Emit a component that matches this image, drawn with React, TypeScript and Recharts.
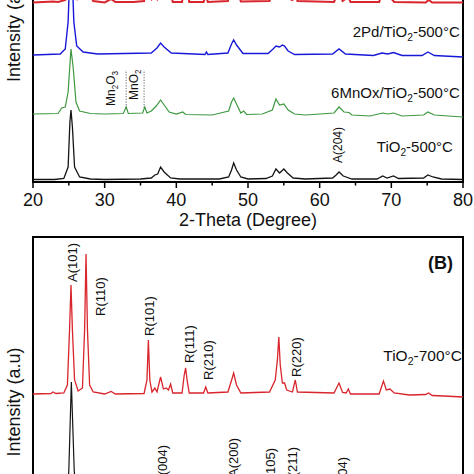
import React from 'react';
import { LineChart, Line, XAxis, YAxis, ReferenceDot, ReferenceLine, ReferenceArea } from 'recharts';

const FONT = '"Liberation Sans", Arial, Helvetica, sans-serif';

// ---------- shared ----------
const xTicks = [20, 25, 30, 35, 40, 45, 50, 55, 60, 65, 70, 75, 80];
const xDomain = [20, 80];

// ---------- Panel A (intensity, stacked, a.u.) ----------
const tio2_500: [number, number][] = [
  [20, 2.5], [23, 2.5], [24.3, 3.5], [24.9, 15], [25.15, 60], [25.3, 72], [25.5, 55], [25.8, 15], [26.5, 5], [28, 3],
  [30, 2.5], [35, 3], [36.5, 4], [37.0, 7], [37.4, 8], [37.8, 15], [38.3, 10], [38.6, 8], [39.2, 4], [40.5, 3],
  [46, 3], [47.3, 5], [47.7, 12], [48.0, 19], [48.4, 12], [49, 5], [50, 3], [52.5, 3.5], [53.4, 6], [53.9, 13],
  [54.4, 9], [55.0, 13], [55.5, 9], [56.3, 4], [58, 3], [61.8, 4], [62.3, 7], [62.7, 10], [63.3, 6], [64.5, 3],
  [68, 3], [68.8, 6], [69.4, 4], [70.3, 6], [71, 3.5], [74.5, 4], [75.1, 7], [75.8, 5], [77, 3], [80, 2.5],
];
const mnox_500: [number, number][] = [
  [20, 68], [23.5, 68.5], [24.0, 74], [24.5, 75], [24.9, 90], [25.3, 133], [25.6, 115], [26, 80], [26.5, 71], [28, 68.5],
  [30, 68], [32.6, 68.5], [33.0, 75], [33.3, 68.5], [35.3, 69], [35.6, 75], [35.9, 69], [36.5, 71], [37.2, 76], [37.8, 82],
  [38.3, 77], [39, 70], [40, 68], [40.9, 70], [41.3, 67.5], [45, 67], [47.3, 71], [47.7, 80], [48.0, 84], [48.4, 78],
  [49.0, 69], [49.4, 71], [49.8, 67.5], [52, 68], [53.4, 72], [53.9, 83], [54.4, 77], [55.0, 78], [55.6, 72], [56.5, 68],
  [58, 67], [62, 69], [62.7, 75], [63.4, 70], [64.1, 69.5], [64.5, 67], [67, 66], [68.8, 69], [69.5, 68], [70.3, 69],
  [71.5, 66], [74.5, 67], [75.1, 70], [76, 67], [80, 65],
];
const pd_500: [number, number][] = [
  [20, 127], [23.8, 128], [24.5, 133], [24.9, 160], [25.3, 240], [25.7, 160], [26.1, 136], [27, 130], [29, 128], [36.5, 129],
  [37.3, 134], [37.8, 139], [38.3, 135], [39.3, 129], [44, 127.5], [44.2, 130], [44.4, 127.5], [47.2, 129], [47.7, 138], [48.0, 142],
  [48.4, 137], [49.3, 128.5], [52.8, 128.5], [53.5, 133], [53.9, 136], [54.4, 135], [54.8, 137], [55.1, 136], [55.6, 131], [56.5, 127.5],
  [61.8, 128], [62.7, 133], [63.6, 128], [67.5, 126.5], [68.7, 129], [69.5, 128], [70.3, 129.5], [71.5, 126.5], [74.3, 126.5], [75.1, 130],
  [76, 126.5], [80, 125],
];
const tio2_700_A: [number, number][] = [
  [20, 179.5], [22.8, 180.5], [23.5, 180], [24.5, 182], [24.9, 195], [25.3, 290], [25.7, 195], [26.2, 183], [26.9, 188], [27.4, 320],
  [27.9, 188], [28.4, 181], [30, 179.5], [30.9, 183], [31.5, 180], [34, 180], [35.5, 181], [36.1, 240], [36.6, 183], [37.0, 186],
  [37.3, 183], [37.8, 200], [38.2, 185], [38.6, 186], [39.2, 190], [39.5, 180], [40.8, 180], [41.3, 210], [41.8, 180], [43.8, 180],
  [44.1, 187], [44.4, 180], [47.2, 181], [48.0, 205], [49, 180.5], [53.0, 181], [53.8, 195], [54.3, 240], [54.8, 192], [55.1, 192],
  [55.4, 184], [56.2, 182], [56.6, 195], [56.9, 181], [62.0, 180], [62.7, 192], [63.2, 181], [64.0, 185], [64.3, 180], [68.3, 180],
  [68.9, 193], [69.3, 184], [69.8, 185], [70.4, 180], [74.8, 179.5], [75.2, 182], [75.7, 179.5], [80, 179.5],
];

// ---------- Panel B ----------
const tio2_700_B: [number, number][] = [
  [20, 136], [22.5, 136.5], [22.8, 138], [23.2, 136.5], [24.3, 137], [24.8, 145], [25.1, 200], [25.3, 245], [25.5, 200], [25.8, 150],
  [26.3, 139], [26.9, 142], [27.2, 200], [27.4, 276], [27.6, 200], [27.9, 145], [28.4, 138], [30, 136], [30.9, 138.5], [31.5, 136],
  [35.5, 136.5], [35.9, 150], [36.1, 190], [36.3, 150], [36.6, 138], [37.0, 142], [37.3, 138], [37.8, 153], [38.2, 141], [38.6, 142],
  [38.9, 140], [39.2, 146], [39.5, 137], [40.8, 137], [41.1, 155], [41.3, 162], [41.5, 150], [41.8, 137], [43.8, 137], [44.1, 143],
  [44.4, 137], [47.2, 138], [47.8, 152], [48.0, 157], [48.4, 145], [49, 137], [53.0, 138], [53.8, 150], [54.1, 170], [54.3, 193],
  [54.5, 165], [54.8, 147], [55.1, 147], [55.4, 140], [56.2, 138], [56.6, 150], [56.9, 138], [62.0, 137], [62.7, 147], [63.2, 137.5],
  [63.7, 137], [64.0, 141], [64.3, 136], [68.3, 136], [68.9, 149], [69.3, 140], [69.8, 141], [70.4, 137], [72.5, 135], [74.8, 135.5],
  [75.2, 137], [75.7, 134.5], [77.3, 134], [80, 133],
];
const tio2_500_B: [number, number][] = [
  [20, 20], [24.5, 22], [24.8, 35], [25.0, 60], [25.35, 148], [25.75, 60], [26.0, 35], [26.5, 22], [36.5, 21], [37.8, 28],
  [39, 21], [47.5, 22], [48.0, 30], [48.5, 22], [80, 20],
];

type Part = { t: string; sub?: boolean };
type Note = { x: number; y: number; parts: Part[]; size: number; rotate?: boolean; anchor?: string; bold?: boolean };

const sub = (t: string): Part => ({ t, sub: true });
const txt = (t: string): Part => ({ t });

const Y_TITLE = 'Intensity (a.u)';

const notesA: Note[] = [
  { x: 17.35, y: 154.5, parts: [txt(Y_TITLE)], size: 18, rotate: true, anchor: 'middle' },
  { x: 62.55, y: 19, parts: [txt('A(204)')], size: 12, rotate: true },
  { x: 30.95, y: 76, parts: [txt('Mn'), sub('2'), txt('O'), sub('3')], size: 12, rotate: true },
  { x: 34.15, y: 82, parts: [txt('MnO'), sub('2')], size: 12, rotate: true },
  { x: 79.55, y: 145, parts: [txt('2Pd/TiO'), sub('2'), txt('-500°C')], size: 15, anchor: 'end' },
  { x: 79.55, y: 84, parts: [txt('6MnOx/TiO'), sub('2'), txt('-500°C')], size: 15, anchor: 'end' },
  { x: 78.6, y: 30, parts: [txt('TiO'), sub('2'), txt('-500°C')], size: 15, anchor: 'end' },
];
const dottedA: [number, number, number][] = [
  [33.0, 74, 112],
  [35.5, 74, 112],
];

const notesB: Note[] = [
  { x: 17.35, y: 128, parts: [txt(Y_TITLE)], size: 18, rotate: true, anchor: 'middle' },
  { x: 25.45, y: 248, parts: [txt('A(101)')], size: 13, rotate: true },
  { x: 29.35, y: 214, parts: [txt('R(110)')], size: 13, rotate: true },
  { x: 36.2, y: 194, parts: [txt('R(101)')], size: 13, rotate: true },
  { x: 41.8, y: 167, parts: [txt('R(111)')], size: 13, rotate: true },
  { x: 44.4, y: 150, parts: [txt('R(210)')], size: 13, rotate: true },
  { x: 56.7, y: 153, parts: [txt('R(220)')], size: 13, rotate: true },
  { x: 38.0, y: 46, parts: [txt('A(004)')], size: 13, rotate: true },
  { x: 47.9, y: 53, parts: [txt('A(200)')], size: 13, rotate: true },
  { x: 53.1, y: 43, parts: [txt('A(105)')], size: 13, rotate: true },
  { x: 56.1, y: 45, parts: [txt('A(211)')], size: 13, rotate: true },
  { x: 63.1, y: 34, parts: [txt('A(204)')], size: 13, rotate: true },
  { x: 79.85, y: 169, parts: [txt('TiO'), sub('2'), txt('-700°C')], size: 15.5, anchor: 'end' },
  { x: 78.6, y: 261, parts: [txt('(B)')], size: 18, anchor: 'end', bold: true },
];

const toPts = (a: [number, number][]) => a.map(([x, y]) => ({ x, y }));

const renderText = (n: Note) => (props: any) => {
  const vb = props.viewBox || {};
  const x = (vb.x ?? 0) + (vb.width ?? 0) / 2;
  const y = (vb.y ?? 0) + (vb.height ?? 0) / 2;
  const subSize = n.size * 0.68;
  const shift = n.size * 0.28;
  return (
    <text
      x={x}
      y={y}
      transform={n.rotate ? `rotate(-90 ${x} ${y})` : undefined}
      textAnchor={n.anchor ?? 'start'}
      dominantBaseline={n.rotate ? 'central' : undefined}
      fontSize={n.size}
      fontFamily={FONT}
      fontWeight={n.bold ? 'bold' : 'normal'}
      fill="#111"
    >
      {n.parts.map((p, i) => {
        const prevSub = i > 0 && n.parts[i - 1].sub;
        const dy = p.sub ? shift : prevSub ? -shift : 0;
        return (
          <tspan key={i} dy={dy} fontSize={p.sub ? subSize : n.size}>
            {p.t}
          </tspan>
        );
      })}
    </text>
  );
};

const XTick = (props: any) => {
  const { x, y, payload } = props;
  const major = payload.value % 10 === 0;
  return (
    <g>
      <line x1={x} x2={x} y1={y} y2={y + (major ? 6 : 3.5)} stroke="#000" strokeWidth={1.5} />
      {major && (
        <text x={x} y={y + 24} textAnchor="middle" fontSize={18} fontFamily={FONT} fill="#111">
          {payload.value}
        </text>
      )}
    </g>
  );
};

const xTitle = (props: any) => {
  const vb = props.viewBox || {};
  const x = (vb.x ?? 0) + (vb.width ?? 0) / 2;
  const y = (vb.y ?? 0) + 44;
  return (
    <text x={x} y={y} textAnchor="middle" fontSize={18} fontFamily={FONT} fill="#111">
      2-Theta (Degree)
    </text>
  );
};

const COLORS = { black: '#151515', green: '#3d983f', blue: '#1818d8', red: '#d9252c' };

export default function App() {
  return (
    <div style={{ position: 'absolute', left: 0, top: 0, width: 474, height: 474, overflow: 'hidden', background: '#fff' }}>
      {/* Panel A */}
      <div style={{ position: 'absolute', left: 0, top: -30 }}>
        <LineChart width={474} height={267} margin={{ top: 0, right: 11, left: 33, bottom: 0 }}>
          <XAxis
            dataKey="x"
            type="number"
            domain={xDomain}
            ticks={xTicks}
            allowDataOverflow
            height={55}
            tickSize={0}
            tickMargin={0}
            tickLine={false}
            tick={<XTick />}
            axisLine={{ stroke: '#000', strokeWidth: 2 }}
            label={xTitle}
          />
          <YAxis type="number" domain={[0, 212]} allowDataOverflow hide width={0} />
          <ReferenceArea x1={20} x2={80} y1={0} y2={212} fill="none" stroke="#000" strokeWidth={2} ifOverflow="visible" />
          <Line data={toPts(tio2_700_A)} dataKey="y" stroke={COLORS.red} strokeWidth={2} dot={false} isAnimationActive={false} />
          <Line data={toPts(pd_500)} dataKey="y" stroke={COLORS.blue} strokeWidth={1.4} dot={false} isAnimationActive={false} />
          <Line data={toPts(mnox_500)} dataKey="y" stroke={COLORS.green} strokeWidth={1.2} dot={false} isAnimationActive={false} />
          <Line data={toPts(tio2_500)} dataKey="y" stroke={COLORS.black} strokeWidth={1.3} dot={false} isAnimationActive={false} />
          {dottedA.map(([x, y1, y2], i) => (
            <ReferenceLine key={`d${i}`} segment={[{ x, y: y1 }, { x, y: y2 }]} stroke="#666" strokeWidth={1} strokeDasharray="1.2 1.5" />
          ))}
          {notesA.map((n, i) => (
            <ReferenceDot key={`a${i}`} x={n.x} y={n.y} r={0} fill="none" stroke="none" ifOverflow="visible" label={renderText(n)} />
          ))}
        </LineChart>
      </div>
      {/* Panel B */}
      <div style={{ position: 'absolute', left: 0, top: 230 }}>
        <LineChart width={474} height={300} margin={{ top: 7, right: 11, left: 33, bottom: 0 }}>
          <XAxis dataKey="x" type="number" domain={xDomain} ticks={xTicks} allowDataOverflow hide height={0} />
          <YAxis type="number" domain={[0, 293]} allowDataOverflow hide width={0} />
          <ReferenceArea x1={20} x2={80} y1={0} y2={293} fill="none" stroke="#000" strokeWidth={2} ifOverflow="visible" />
          <Line data={toPts(tio2_500_B)} dataKey="y" stroke={COLORS.black} strokeWidth={1.2} dot={false} isAnimationActive={false} />
          <Line data={toPts(tio2_700_B)} dataKey="y" stroke={COLORS.red} strokeWidth={1.3} dot={false} isAnimationActive={false} />
          {notesB.map((n, i) => (
            <ReferenceDot key={`b${i}`} x={n.x} y={n.y} r={0} fill="none" stroke="none" ifOverflow="visible" label={renderText(n)} />
          ))}
        </LineChart>
      </div>
    </div>
  );
}
